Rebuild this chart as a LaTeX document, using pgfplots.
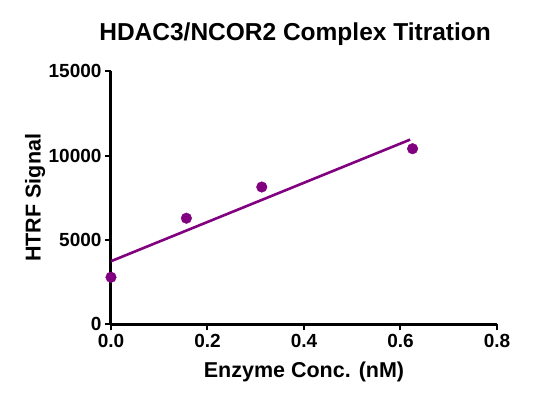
\documentclass[border=0pt]{standalone}
\usepackage{fontspec}
\setmainfont{Liberation Sans}
\usepackage{pgfplots}
\pgfplotsset{compat=1.18}
\definecolor{prismpurple}{HTML}{800080}
\begin{document}
\begin{tikzpicture}
\useasboundingbox (-111bp,-78.7bp) rectangle (445bp,324.3bp);
\begin{axis}[
    scale only axis,
    width=386bp, height=253bp,
    xmin=0, xmax=0.8, ymin=0, ymax=15000,
    axis x line*=bottom, axis y line*=left,
    axis line style={line width=3bp, -},
    xtick={0,0.2,...,0.8}, ytick={0,5000,10000,15000},
    tick style={line width=2bp, black},
    tick align=outside, major tick length=6bp,
    /pgf/number format/assume math mode=true,
    xticklabel={\pgfmathprintnumber[fixed,fixed zerofill,precision=1]{\tick}},
    yticklabel={\pgfmathprintnumber[int detect,1000 sep={}]{\tick}},
    scaled y ticks=false,
    ticklabel style={font=\fontsize{19bp}{21bp}\selectfont\bfseries},
    xlabel={Enzyme Conc. (nM)},
    ylabel={HTRF Signal},
    label style={font=\fontsize{21.5bp}{23bp}\selectfont\bfseries},
    xlabel style={at={([yshift=-48bp]axis description cs:0.5,0)}, anchor=center},
    ylabel style={at={([xshift=-76bp]axis description cs:0,0.5)}, anchor=center},
    title={HDAC3/NCOR2 Complex Titration},
    title style={font=\fontsize{24.5bp}{26bp}\selectfont\bfseries, at={([yshift=31bp]axis description cs:0.477,1)}, anchor=center},
    clip=false,
]
\addplot[only marks, mark=*, mark size=5.3bp, color=prismpurple]
    coordinates {(0,2790) (0.15625,6290) (0.3125,8140) (0.625,10410)};
\addplot[no marks, line width=2.6bp, color=prismpurple]
    coordinates {(0,3740) (0.62,10950)};
\end{axis}
\end{tikzpicture}
\end{document}
